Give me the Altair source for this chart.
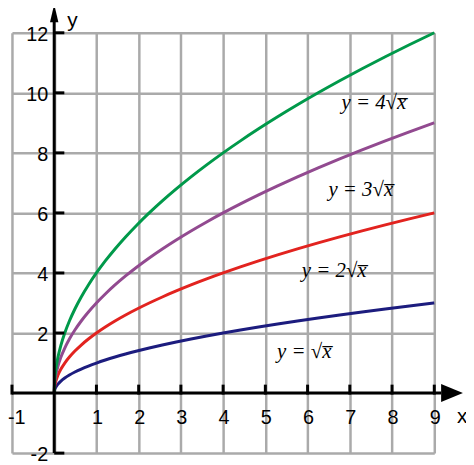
import altair as alt
import pandas as pd

# sample points (x) and the read values of the four curves
x_vals = [0, 0.01, 0.04, 0.09, 0.16, 0.25, 0.36, 0.49, 0.64, 0.81, 1.0,
          1.21, 1.44, 1.69, 1.96, 2.25, 2.56, 2.89, 3.24, 3.61, 4.0,
          4.41, 4.84, 5.29, 5.76, 6.25, 6.76, 7.29, 7.84, 8.41, 9.0]
y_1 = [0, 0.1, 0.2, 0.3, 0.4, 0.5, 0.6, 0.7, 0.8, 0.9, 1.0,
       1.1, 1.2, 1.3, 1.4, 1.5, 1.6, 1.7, 1.8, 1.9, 2.0,
       2.1, 2.2, 2.3, 2.4, 2.5, 2.6, 2.7, 2.8, 2.9, 3.0]
y_2 = [0, 0.2, 0.4, 0.6, 0.8, 1.0, 1.2, 1.4, 1.6, 1.8, 2.0,
       2.2, 2.4, 2.6, 2.8, 3.0, 3.2, 3.4, 3.6, 3.8, 4.0,
       4.2, 4.4, 4.6, 4.8, 5.0, 5.2, 5.4, 5.6, 5.8, 6.0]
y_3 = [0, 0.3, 0.6, 0.9, 1.2, 1.5, 1.8, 2.1, 2.4, 2.7, 3.0,
       3.3, 3.6, 3.9, 4.2, 4.5, 4.8, 5.1, 5.4, 5.7, 6.0,
       6.3, 6.6, 6.9, 7.2, 7.5, 7.8, 8.1, 8.4, 8.7, 9.0]
y_4 = [0, 0.4, 0.8, 1.2, 1.6, 2.0, 2.4, 2.8, 3.2, 3.6, 4.0,
       4.4, 4.8, 5.2, 5.6, 6.0, 6.4, 6.8, 7.2, 7.6, 8.0,
       8.4, 8.8, 9.2, 9.6, 10.0, 10.4, 10.8, 11.2, 11.6, 12.0]

series_names = ["y = √x", "y = 2√x", "y = 3√x", "y = 4√x"]
series_colors = ["#1c1c7e", "#e2231f", "#924a90", "#00994a"]
label_texts = ["y = √x̅", "y = 2√x̅", "y = 3√x̅", "y = 4√x̅"]
label_x = [5.92, 6.63, 7.26, 7.57]
label_y = [1.17, 3.87, 6.58, 9.45]

x_tick_values = [-1, 1, 2, 3, 4, 5, 6, 7, 8, 9]
x_label_values = [1, 2, 3, 4, 5, 6, 7, 8, 9]
y_tick_values = [-2, 2, 4, 6, 8, 10, 12]
x_grid_values = [-1, 0, 1, 2, 3, 4, 5, 6, 7, 8, 9]
y_grid_values = [-2, 0, 2, 4, 6, 8, 10, 12]

rows = []
for name, ys_ in zip(series_names, [y_1, y_2, y_3, y_4]):
    for xv, yv in zip(x_vals, ys_):
        rows.append({"x": xv, "y": yv, "s": name})
curves_df = pd.DataFrame(rows)

xs = alt.Scale(domain=[-1, 9], nice=False, zero=False)
ys = alt.Scale(domain=[-2, 12], nice=False, zero=False)
ax_x = alt.Axis(values=x_grid_values, grid=True, labels=False, ticks=False,
                domain=False, title=None, gridColor="#aaaaaa", gridWidth=2.5, gridOpacity=1)
ax_y = alt.Axis(values=y_grid_values, grid=True, labels=False, ticks=False,
                domain=False, title=None, gridColor="#aaaaaa", gridWidth=2.5, gridOpacity=1)


def X(f):
    return alt.X(f, type="quantitative", scale=xs, axis=ax_x)


def Y(f):
    return alt.Y(f, type="quantitative", scale=ys, axis=ax_y)


curves = alt.Chart(curves_df).mark_line(strokeWidth=3, interpolate="monotone").encode(
    x=X("x"), y=Y("y"),
    color=alt.Color("s:N", scale=alt.Scale(domain=series_names, range=series_colors), legend=None),
    order=alt.Order("x:Q"),
)

# axes lines
yaxis_df = pd.DataFrame({"x": [0], "y1": [-2], "y2": [12.36]})
xaxis_df = pd.DataFrame({"y": [0], "x1": [-1], "x2": [9.16]})
yaxis_line = alt.Chart(yaxis_df).mark_rule(color="black", strokeWidth=3).encode(
    x=X("x"), y=Y("y1"), y2="y2")
xaxis_line = alt.Chart(xaxis_df).mark_rule(color="black", strokeWidth=3).encode(
    y=Y("y"), x=X("x1"), x2="x2")

# arrows
up_arrow = alt.Chart(pd.DataFrame({"x": [0], "y": [12.65]})).mark_point(
    shape="M0,-1L0.47,1L-0.47,1Z", size=324, filled=True, color="black", opacity=1
).encode(x=X("x"), y=Y("y"))
right_arrow = alt.Chart(pd.DataFrame({"x": [9.42], "y": [0]})).mark_point(
    shape="M1,0L-1,-0.82L-1,0.82Z", size=484, filled=True, color="black", opacity=1
).encode(x=X("x"), y=Y("y"))

# tick marks
xt_df = pd.DataFrame({"x": x_tick_values, "a": [-0.05] * len(x_tick_values), "b": [0.28] * len(x_tick_values)})
yt_df = pd.DataFrame({"y": y_tick_values, "a": [0] * len(y_tick_values), "b": [0.24] * len(y_tick_values)})
xticks = alt.Chart(xt_df).mark_rule(color="black", strokeWidth=3).encode(
    x=X("x"), y=Y("a"), y2="b")
yticks = alt.Chart(yt_df).mark_rule(color="black", strokeWidth=3).encode(
    y=Y("y"), x=X("a"), x2="b")

# tick labels
xl_df = pd.DataFrame({"x": x_label_values, "y": [0] * len(x_label_values),
                      "t": [str(v) for v in x_label_values]})
yl_df = pd.DataFrame({"y": y_tick_values, "x": [0] * len(y_tick_values),
                      "t": [str(v) for v in y_tick_values]})
xlabels = alt.Chart(xl_df).mark_text(font="Liberation Sans", fontSize=20, align="center",
                                     baseline="alphabetic", dy=31, dx=1, color="black").encode(
    x=X("x"), y=Y("y"), text="t:N")
neg_label = alt.Chart(pd.DataFrame({"x": [-1], "y": [0], "t": ["-1"]})).mark_text(
    font="Liberation Sans", fontSize=20, align="left", baseline="alphabetic", dy=31, dx=-4,
    color="black").encode(x=X("x"), y=Y("y"), text="t:N")
ylabels = alt.Chart(yl_df).mark_text(font="Liberation Sans", fontSize=20, align="right",
                                     baseline="alphabetic", dx=-6, dy=8, color="black").encode(
    x=X("x"), y=Y("y"), text="t:N")

# axis names
yname = alt.Chart(pd.DataFrame({"x": [0.43], "y": [12.74], "t": ["y"]})).mark_text(
    font="Liberation Sans", fontSize=21, align="center", baseline="top", color="black"
).encode(x=X("x"), y=Y("y"), text="t:N")
xname = alt.Chart(pd.DataFrame({"x": [9.66], "y": [0], "t": ["x"]})).mark_text(
    font="Liberation Sans", fontSize=21, align="center", baseline="alphabetic", dy=30, color="black"
).encode(x=X("x"), y=Y("y"), text="t:N")

# curve labels
cl_df = pd.DataFrame({"x": label_x, "y": label_y, "t": label_texts})
curve_labels = alt.Chart(cl_df).mark_text(font="Liberation Serif", fontSize=21, fontStyle="italic",
                                          align="center", baseline="alphabetic", color="black").encode(
    x=X("x"), y=Y("y"), text="t:N")

chart = alt.layer(
    curves, yaxis_line, xaxis_line, up_arrow, right_arrow, xticks, yticks,
    xlabels, neg_label, ylabels, yname, xname, curve_labels
).properties(
    width=426, height=424,
    autosize=alt.AutoSizeParams(type="none"),
    padding={"left": 4, "top": 23, "right": 32, "bottom": 10},
    background="white",
).configure_view(stroke=None)

chart.save("out.html", embed_options={"renderer": "svg", "actions": False})
